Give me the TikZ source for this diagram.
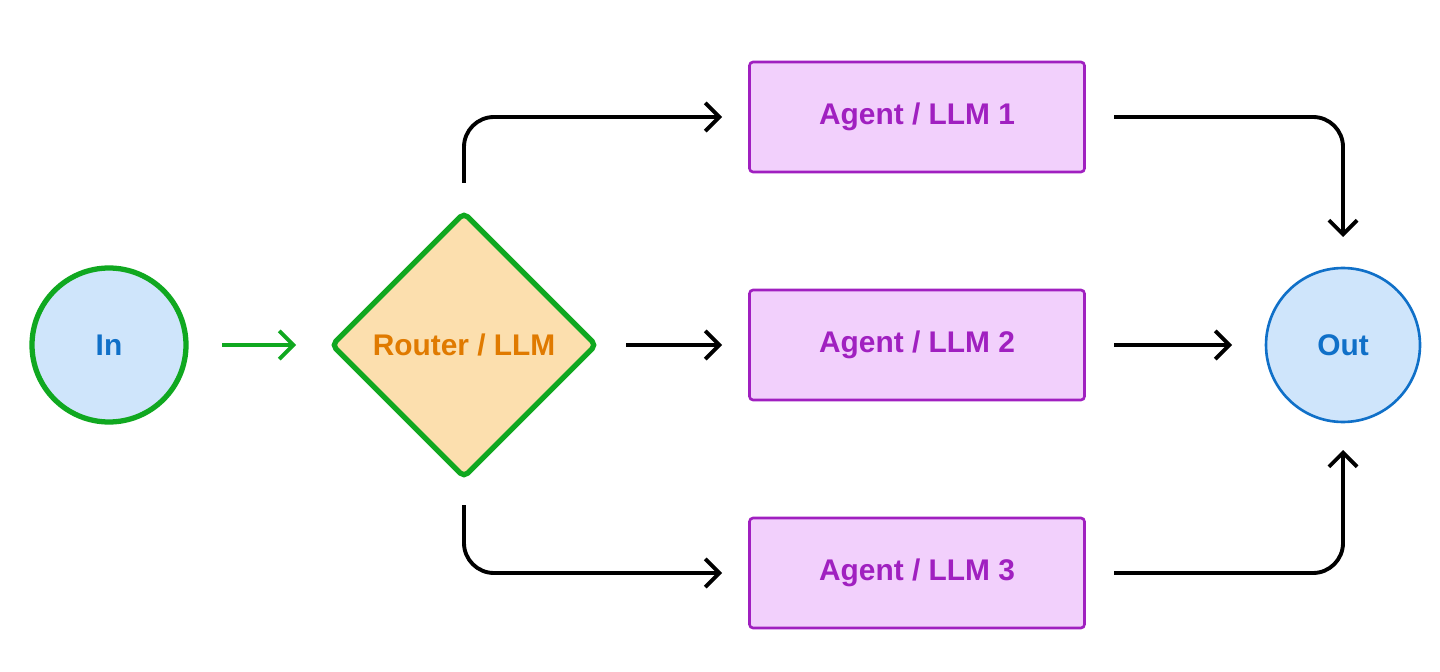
\documentclass[tikz,border=0pt]{standalone}
\usepackage{fontspec}
\setmainfont{Liberation Sans}
\usetikzlibrary{shapes.geometric,arrows.meta}
\definecolor{cblue}{HTML}{CFE5FB}
\definecolor{tblue}{HTML}{1070C8}
\definecolor{cgreen}{HTML}{10A820}
\definecolor{corange}{HTML}{FCDFAE}
\definecolor{torange}{HTML}{E07A00}
\definecolor{cpink}{HTML}{F2D0FC}
\definecolor{tpurple}{HTML}{A020C0}
\begin{document}
\begin{tikzpicture}[x=0.02cm,y=-0.02cm,
  txt/.style={font=\fontsize{17}{20}\selectfont\bfseries},
  term/.style={circle,minimum size=3.08cm,fill=cblue,txt,text=tblue,inner sep=0pt},
  agent/.style={rectangle,minimum width=6.7cm,minimum height=2.2cm,fill=cpink,draw=tpurple,line width=1.5pt,rounded corners=2pt,txt,text=tpurple},
  link/.style={line width=2.2pt,rounded corners=0.6cm,-{Straight Barb[length=8pt,width=16pt,line width=2.2pt]}}]
\useasboundingbox (0,0) rectangle (1440,672);
\node[term,draw=cgreen,line width=3pt] (in) at (109,345) {In};
\node[term,draw=tblue,line width=1.5pt] (out) at (1343,345) {Out};
\node[diamond,aspect=1,minimum size=5.32cm,inner sep=0pt,fill=corange,draw=cgreen,line width=3pt,rounded corners=3pt,txt,text=torange] (router) at (464,345) {Router / LLM};
\node[agent] (a1) at (917,117) {Agent / LLM 1};
\node[agent] (a2) at (917,345) {Agent / LLM 2};
\node[agent] (a3) at (917,573) {Agent / LLM 3};
\coordinate (gin) at (222,345);
\coordinate (gout) at (296,345);
\coordinate (rt) at (464,183);
\coordinate (rb) at (464,505);
\coordinate (rr) at (626,345);
\coordinate (o1) at (1114,117);
\coordinate (o2) at (1114,345);
\coordinate (o3) at (1114,573);
\coordinate (i1) at (722,117);
\coordinate (i2) at (722,345);
\coordinate (i3) at (722,573);
\coordinate (ot) at (1343,237);
\coordinate (or) at (1232,345);
\coordinate (ob) at (1343,450);
\draw[link,draw=cgreen] (gin) -- (gout);
\draw[link] (rt) |- (i1);
\draw[link] (rr) -- (i2);
\draw[link] (rb) |- (i3);
\draw[link] (o1) -| (ot);
\draw[link] (o2) -- (or);
\draw[link] (o3) -| (ob);
\end{tikzpicture}
\end{document}
